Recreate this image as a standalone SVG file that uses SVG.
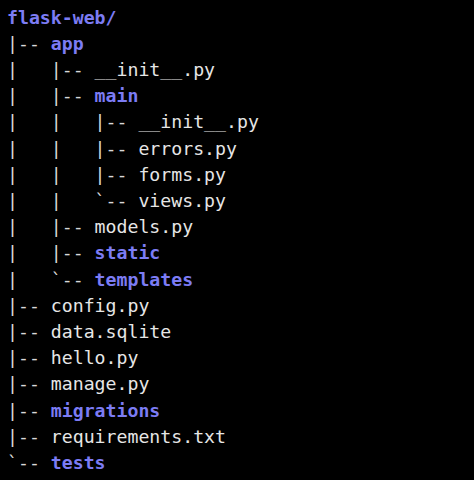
<svg xmlns="http://www.w3.org/2000/svg" width="474" height="480" viewBox="0 0 474 480">
<style>
text{font-family:"DejaVu Sans Mono","Liberation Mono",monospace;font-size:18.2px;white-space:pre;fill:#e6e6e6}
.d{fill:#7c7cf4;font-weight:bold}
.t{fill:#d8d8d8}
</style>
<rect width="474" height="480" fill="#000"/>
<g id="connectors" transform="translate(0,1.5)">
<text x="7" y="48.2" class="t">|-- </text>
<text x="7" y="74.4" class="t">|   |-- </text>
<text x="7" y="100.6" class="t">|   |-- </text>
<text x="7" y="126.8" class="t">|   |   |-- </text>
<text x="7" y="153" class="t">|   |   |-- </text>
<text x="7" y="179.2" class="t">|   |   |-- </text>
<text x="7" y="205.4" class="t">|   |   `-- </text>
<text x="7" y="231.6" class="t">|   |-- </text>
<text x="7" y="257.8" class="t">|   |-- </text>
<text x="7" y="284" class="t">|   `-- </text>
<text x="7" y="310.2" class="t">|-- </text>
<text x="7" y="336.4" class="t">|-- </text>
<text x="7" y="362.6" class="t">|-- </text>
<text x="7" y="388.8" class="t">|-- </text>
<text x="7" y="415" class="t">|-- </text>
<text x="7" y="441.2" class="t">|-- </text>
<text x="7" y="467.4" class="t">`-- </text>
</g>
<g transform="translate(0,1.5)">
<g id="root"><text x="7" y="22" class="d">flask-web/</text></g>
<g id="app"><text x="7" y="48.2"><tspan fill="none">|-- </tspan><tspan class="d">app</tspan></text></g>
<g id="app-init"><text x="7" y="74.4"><tspan fill="none">|   |-- </tspan>__init__.py</text></g>
<g id="main"><text x="7" y="100.6"><tspan fill="none">|   |-- </tspan><tspan class="d">main</tspan></text></g>
<g id="main-init"><text x="7" y="126.8"><tspan fill="none">|   |   |-- </tspan>__init__.py</text></g>
<g id="errors"><text x="7" y="153"><tspan fill="none">|   |   |-- </tspan>errors.py</text></g>
<g id="forms"><text x="7" y="179.2"><tspan fill="none">|   |   |-- </tspan>forms.py</text></g>
<g id="views"><text x="7" y="205.4"><tspan fill="none">|   |   `-- </tspan>views.py</text></g>
<g id="models"><text x="7" y="231.6"><tspan fill="none">|   |-- </tspan>models.py</text></g>
<g id="static"><text x="7" y="257.8"><tspan fill="none">|   |-- </tspan><tspan class="d">static</tspan></text></g>
<g id="templates"><text x="7" y="284"><tspan fill="none">|   `-- </tspan><tspan class="d">templates</tspan></text></g>
<g id="config"><text x="7" y="310.2"><tspan fill="none">|-- </tspan>config.py</text></g>
<g id="data"><text x="7" y="336.4"><tspan fill="none">|-- </tspan>data.sqlite</text></g>
<g id="hello"><text x="7" y="362.6"><tspan fill="none">|-- </tspan>hello.py</text></g>
<g id="manage"><text x="7" y="388.8"><tspan fill="none">|-- </tspan>manage.py</text></g>
<g id="migrations"><text x="7" y="415"><tspan fill="none">|-- </tspan><tspan class="d">migrations</tspan></text></g>
<g id="requirements"><text x="7" y="441.2"><tspan fill="none">|-- </tspan>requirements.txt</text></g>
<g id="tests"><text x="7" y="467.4"><tspan fill="none">`-- </tspan><tspan class="d">tests</tspan></text></g>
</g>
</svg>
